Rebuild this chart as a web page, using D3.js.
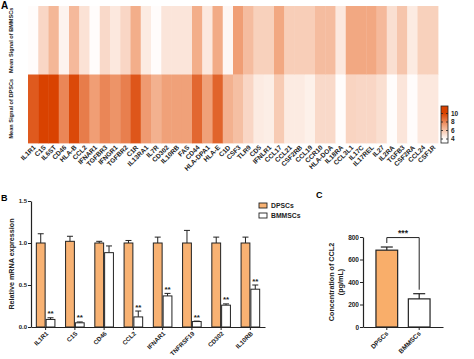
<!DOCTYPE html>
<html><head><meta charset="utf-8">
<script src="https://cdn.jsdelivr.net/npm/d3@7"></script>
<style>
body{margin:0;background:#fff;}
svg{display:block;font-family:Arial,"Liberation Sans",sans-serif;}
</style></head>
<body><svg id="c" width="474" height="359"></svg>
<script>
// ---- Panel A heatmap data ----
const genes = ["IL1R1","C1S","IL6ST","CD46","HLA-B","CCL2","IFNAR1","TGFBR3","IFNGR1","TGFBR2","C1R","IL13RA1","IL7R","CD302","IL10RB","FAS","CD44","HLA-DPA1","HLA-E","C1D","CSF3","TLR9","CD5","IFNLR1","CCL17","CCL21","CSF2RB","CCL19","CCR10","HLA-DOA","IL18RA","CCL3L1","IL17C","IL17REL","IL27","IL2RA","TGFB3","CSF2RA","CCL24","CSF1R"];
const rows = ["Mean Signal of BMMSCs","Mean Signal of DPSCs"];
const bmmscSignal = [4.1,5.4,6.5,4.4,6.4,5.0,4.1,5.3,4.8,5.4,6.8,4.7,4.1,4.9,4.9,4.9,6.8,4.8,6.9,4.3,7.3,6.3,5.6,5.6,7.0,5.7,5.7,5.7,6.3,6.3,4.8,7.0,7.0,7.0,6.4,5.1,6.0,4.7,5.6,5.6];
const dpscSignal  = [9.3,10.0,10.0,8.0,9.8,8.3,7.3,8.0,7.6,8.2,9.4,7.4,6.7,7.2,7.2,7.2,8.9,7.2,9.0,6.7,6.2,5.4,4.7,4.6,5.8,4.7,4.7,4.5,5.3,5.3,4.1,5.5,5.4,5.4,5.1,4.1,4.9,4.1,4.8,4.8];
const legendTicks = [4,6,8,10];

// ---- Panel B data ----
const pcrGenes = ["IL1R1","C1S","CD46","CCL2","IFNAR1","TNFRSF19","CD302","IL10RB"];
const pcrDPSC = [1.0,1.02,1.0,1.0,1.0,1.0,1.0,1.0];
const pcrDPSCerr = [0.11,0.06,0.02,0.03,0.07,0.15,0.07,0.07];
const pcrBMMSC = [0.09,0.05,0.885,0.12,0.37,0.065,0.26,0.45];
const pcrBMMSCerr = [0.02,0.01,0.08,0.07,0.03,0.005,0.015,0.05];
const pcrSig = ["**","**","","**","**","**","**","**"];
const pcrTicks = [0,0.5,1.0,1.5];
const seriesNames = ["DPSCs","BMMSCs"];

// ---- Panel C data ----
const elisaGroups = ["DPSCs","BMMSCs"];
const elisaVals = [683,250];
const elisaErr = [28,46];
const elisaTicks = [0,200,400,600,800];

const svg = d3.select("#c");
const dark = "#222";
const orange = "#f8b273";

// ===== Panel A =====
const hx = d3.scaleBand().domain(genes).range([28,438]);
const hy = d3.scaleBand().domain(rows).range([6,143]);
const hcol = d3.scaleLinear().domain([4,7,10]).range(["#ffffff","#f2a882","#d94200"]).clamp(true);
const cells = [];
genes.forEach((g,i)=>{ cells.push({g,r:rows[0],v:bmmscSignal[i]}); cells.push({g,r:rows[1],v:dpscSignal[i]}); });
svg.append("g").selectAll("rect").data(cells).join("rect")
  .attr("x",d=>hx(d.g)).attr("y",d=>hy(d.r))
  .attr("width",hx.bandwidth()+0.4).attr("height",hy.bandwidth()+0.4)
  .attr("fill",d=>hcol(d.v));
svg.append("g").selectAll("text").data(rows).join("text")
  .attr("transform",d=>`translate(13,${hy(d)+hy.bandwidth()/2}) rotate(-90)`)
  .attr("text-anchor","middle").attr("font-size",5.6).attr("font-weight","bold").attr("fill",dark).text(d=>d);
svg.append("g").selectAll("text").data(genes).join("text")
  .attr("transform",d=>`translate(${hx(d)+hx.bandwidth()/2+3},148) rotate(-45)`)
  .attr("text-anchor","end").attr("font-size",6.6).attr("font-weight","bold").attr("fill",dark).text(d=>d);
svg.append("text").attr("x",1).attr("y",9).attr("font-size",10).attr("font-weight","bold").text("A");

// legend
const ly = d3.scaleLinear().domain([4,10]).range([139,113.5]);
const defs = svg.append("defs");
const lg = defs.append("linearGradient").attr("id","lg").attr("x1",0).attr("y1",1).attr("x2",0).attr("y2",0);
const lmin = ly.invert(143), lmax = ly.invert(106);
d3.range(0,1.001,0.1).forEach(t=>{
  const v = lmin + t*(lmax-lmin);
  lg.append("stop").attr("offset",t).attr("stop-color",hcol(v));
});
svg.append("rect").attr("x",441).attr("y",106).attr("width",7).attr("height",37)
  .attr("fill","url(#lg)").attr("stroke",dark).attr("stroke-width",0.8);
const lgT = svg.append("g");
legendTicks.forEach(t=>{
  lgT.append("line").attr("x1",441).attr("x2",443).attr("y1",ly(t)).attr("y2",ly(t)).attr("stroke",dark).attr("stroke-width",0.8);
  lgT.append("line").attr("x1",446).attr("x2",448).attr("y1",ly(t)).attr("y2",ly(t)).attr("stroke",dark).attr("stroke-width",0.8);
  lgT.append("text").attr("x",451).attr("y",ly(t)+2.3).attr("font-size",6.5).attr("font-weight","bold").attr("fill",dark).text(t);
});

// ===== Panel B =====
const bx = d3.scaleBand().domain(pcrGenes).range([31,265]).paddingInner(0.33).paddingOuter(0.165);
const bs = d3.scaleBand().domain(seriesNames).range([0,bx.bandwidth()]);
const by = d3.scaleLinear().domain([0,1.5]).range([327,201]);
svg.append("text").attr("x",1).attr("y",201).attr("font-size",9).attr("font-weight","bold").text("B");
const bg = svg.append("g");
pcrGenes.forEach((g,i)=>{
  const set = [[seriesNames[0],pcrDPSC[i],pcrDPSCerr[i],orange],[seriesNames[1],pcrBMMSC[i],pcrBMMSCerr[i],"#fff"]];
  set.forEach(([s,v,e,f])=>{
    const x0 = bx(g)+bs(s), w = bs.bandwidth();
    const cx = x0+w/2;
    bg.append("line").attr("x1",cx).attr("x2",cx).attr("y1",by(v)).attr("y2",by(v+e)).attr("stroke",dark).attr("stroke-width",1);
    bg.append("line").attr("x1",cx-3).attr("x2",cx+3).attr("y1",by(v+e)).attr("y2",by(v+e)).attr("stroke",dark).attr("stroke-width",1);
    bg.append("rect").attr("x",x0+0.5).attr("y",by(v)).attr("width",w-1).attr("height",by(0)-by(v))
      .attr("fill",f).attr("stroke",dark).attr("stroke-width",1);
  });
  if(pcrSig[i]){
    const cx = bx(g)+bs(seriesNames[1])+bs.bandwidth()/2;
    bg.append("text").attr("x",cx).attr("y",by(pcrBMMSC[i]+pcrBMMSCerr[i])-1.5).attr("text-anchor","middle")
      .attr("font-size",8).attr("font-weight","bold").attr("fill",dark).text(pcrSig[i]);
  }
});
const bAxisY = svg.append("g").attr("transform","translate(31,0)")
  .call(d3.axisLeft(by).tickValues(pcrTicks).tickFormat(d3.format(".1f")).tickSize(3).tickSizeOuter(0));
const bAxisX = svg.append("g").attr("transform","translate(0,327)")
  .call(d3.axisBottom(bx).tickSize(3).tickSizeOuter(0).tickFormat(""));
[bAxisY,bAxisX].forEach(a=>{a.select(".domain").attr("stroke",dark).attr("stroke-width",1.2);a.selectAll("line").attr("stroke",dark).attr("stroke-width",1);});
bAxisY.selectAll("text").attr("font-size",6).attr("font-weight","bold").attr("fill",dark).attr("x",-4);
svg.append("g").selectAll("text").data(pcrGenes).join("text")
  .attr("transform",d=>`translate(${bx(d)+bx.bandwidth()/2+3},334) rotate(-45)`)
  .attr("text-anchor","end").attr("font-size",6.2).attr("font-weight","bold").attr("fill",dark).text(d=>d);
svg.append("text").attr("transform","translate(14,264) rotate(-90)").attr("text-anchor","middle")
  .attr("font-size",7.2).attr("font-weight","bold").attr("fill",dark).text("Relative mRNA expression");
// legend B
seriesNames.forEach((s,i)=>{
  svg.append("rect").attr("x",259).attr("y",203+i*10).attr("width",8).attr("height",5)
    .attr("fill",i===0?orange:"#fff").attr("stroke",dark).attr("stroke-width",0.9);
  svg.append("text").attr("x",271).attr("y",208+i*10).attr("font-size",6.8).attr("font-weight","bold").attr("fill",dark).text(s);
});

// ===== Panel C =====
const cx = d3.scaleBand().domain(elisaGroups).range([363,443]).paddingInner(0.33).paddingOuter(0.4);
const cy = d3.scaleLinear().domain([0,800]).range([327,237]);
svg.append("text").attr("x",316).attr("y",198).attr("font-size",9).attr("font-weight","bold").text("C");
const cg = svg.append("g");
elisaGroups.forEach((g,i)=>{
  const x0 = cx(g), w = cx.bandwidth(), c = x0+w/2;
  const v = elisaVals[i], e = elisaErr[i];
  cg.append("line").attr("x1",c).attr("x2",c).attr("y1",cy(v)).attr("y2",cy(v+e)).attr("stroke",dark).attr("stroke-width",1.2);
  cg.append("line").attr("x1",c-6).attr("x2",c+6).attr("y1",cy(v+e)).attr("y2",cy(v+e)).attr("stroke",dark).attr("stroke-width",1.2);
  cg.append("rect").attr("x",x0).attr("y",cy(v)).attr("width",w).attr("height",cy(0)-cy(v))
    .attr("fill",i===0?"#f9ae6a":"#fff").attr("stroke",dark).attr("stroke-width",1.2);
});
// significance bracket
const c1 = cx(elisaGroups[0])+cx.bandwidth()/2, c2 = cx(elisaGroups[1])+cx.bandwidth()/2;
const brY = cy(795);
cg.append("path").attr("d",`M${c1},${cy(elisaVals[0]+elisaErr[0])-4}V${brY}H${c2}V${cy(elisaVals[1]+elisaErr[1])-4}`)
  .attr("fill","none").attr("stroke",dark).attr("stroke-width",1);
cg.append("text").attr("x",(c1+c2)/2).attr("y",brY-1.5).attr("text-anchor","middle")
  .attr("font-size",8.5).attr("font-weight","bold").attr("fill",dark).text("***");
const cAxisY = svg.append("g").attr("transform","translate(363,0)")
  .call(d3.axisLeft(cy).tickValues(elisaTicks).tickSize(3).tickSizeOuter(0));
const cAxisX = svg.append("g").attr("transform","translate(0,327)")
  .call(d3.axisBottom(cx).tickSize(3).tickSizeOuter(0).tickFormat(""));
[cAxisY,cAxisX].forEach(a=>{a.select(".domain").attr("stroke",dark).attr("stroke-width",1.2);a.selectAll("line").attr("stroke",dark).attr("stroke-width",1);});
cAxisY.selectAll("text").attr("font-size",6.5).attr("font-weight","bold").attr("fill",dark).attr("x",-4);
svg.append("g").selectAll("text").data(elisaGroups).join("text")
  .attr("transform",d=>`translate(${cx(d)+cx.bandwidth()/2+2},334) rotate(-45)`)
  .attr("text-anchor","end").attr("font-size",6.5).attr("font-weight","bold").attr("fill",dark).text(d=>d);
svg.append("text").attr("transform","translate(334,282) rotate(-90)").attr("text-anchor","middle")
  .attr("font-size",7.2).attr("font-weight","bold").attr("fill",dark).text("Concentration of CCL2");
svg.append("text").attr("transform","translate(342.5,282) rotate(-90)").attr("text-anchor","middle")
  .attr("font-size",7.2).attr("font-weight","bold").attr("fill",dark).text("(pg/mL)");
</script></body></html>
